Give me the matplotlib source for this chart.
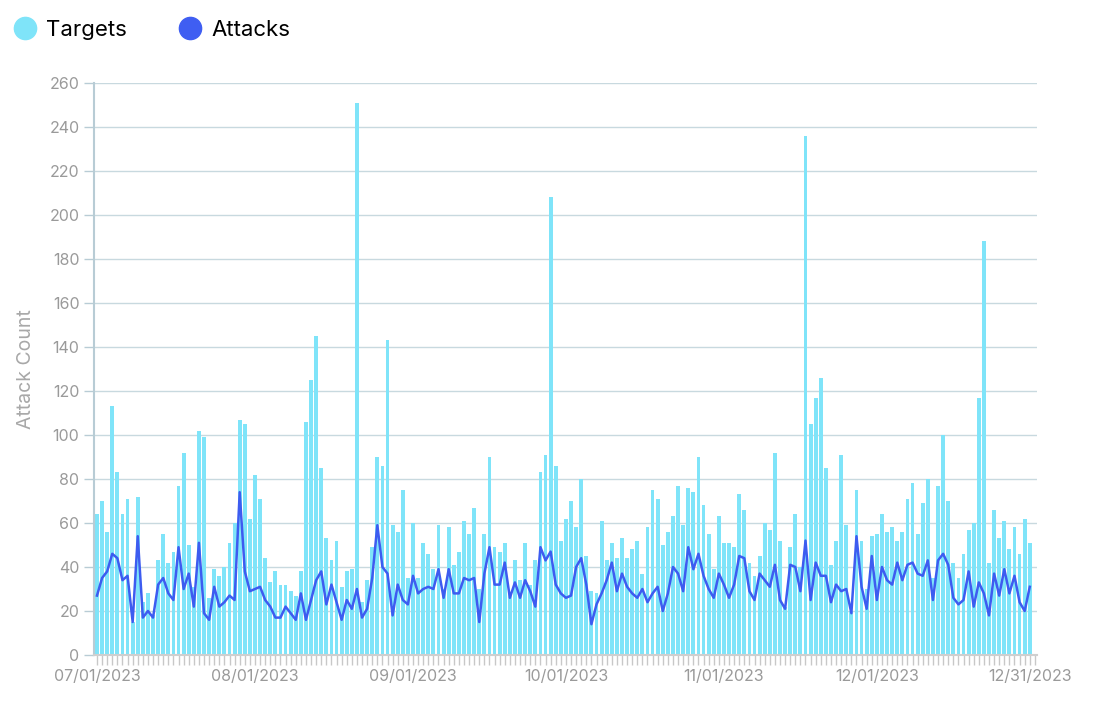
import matplotlib
matplotlib.use("Agg")
import matplotlib.pyplot as plt
import matplotlib.dates as mdates
from matplotlib.lines import Line2D
import pandas as pd

plt.rcParams['font.family'] = ['Inter', 'DejaVu Sans']

start_date = "2023-07-01"
end_date = "2023-12-31"
month_ticks = ["2023-07-01", "2023-08-01", "2023-09-01", "2023-10-01",
               "2023-11-01", "2023-12-01", "2023-12-31"]

targets = [64, 70, 56, 113, 83, 64, 71, 15, 72, 24, 28, 18, 43, 55, 42, 47, 77, 92, 50, 31,
           102, 99, 26, 39, 36, 40, 51, 60, 107, 105,
           62, 82, 71, 44, 33, 38, 32, 32, 29, 27, 38, 106, 125, 145, 85, 53, 43, 52, 31, 38,
           39, 251, 24, 34, 49, 90, 86, 143, 59, 56,
           75, 35, 60, 35, 51, 46, 39, 59, 30, 58, 41, 47, 61, 55, 67, 30, 55, 90, 49, 47,
           51, 28, 43, 34, 51, 32, 43, 83, 91, 208,
           86, 52, 62, 70, 58, 80, 45, 29, 28, 61, 43, 51, 44, 53, 44, 48, 52, 37, 58, 75,
           71, 50, 56, 63, 77, 59, 76, 74, 90, 68,
           55, 39, 63, 51, 51, 49, 73, 66, 42, 36, 45, 60, 57, 92, 52, 22, 49, 64, 40, 236,
           105, 117, 126, 85, 41, 52, 91, 59, 20, 75,
           52, 30, 54, 55, 64, 56, 58, 52, 56, 71, 78, 55, 69, 80, 35, 77, 100, 70, 42, 35,
           46, 57, 60, 117, 188, 42, 66, 53, 61, 48, 58, 46, 62, 51]

attacks = [27, 35, 38, 46, 44, 34, 36, 15, 54, 17, 20, 17, 32, 35, 28, 25, 49, 30, 37, 22,
           51, 19, 16, 31, 22, 24, 27, 25, 74, 38,
           29, 30, 31, 25, 22, 17, 17, 22, 19, 16, 28, 16, 25, 34, 38, 23, 32, 24, 16, 25,
           21, 30, 17, 21, 35, 59, 40, 37, 18, 32,
           25, 23, 36, 28, 30, 31, 30, 39, 26, 39, 28, 28, 35, 34, 35, 15, 37, 49, 32, 32,
           42, 26, 33, 26, 34, 29, 22, 49, 43, 47,
           32, 28, 26, 27, 40, 44, 32, 14, 23, 28, 34, 42, 29, 37, 31, 28, 26, 30, 24, 28,
           31, 20, 28, 40, 37, 29, 49, 39, 46, 36,
           30, 26, 37, 32, 26, 32, 45, 44, 29, 25, 37, 34, 31, 41, 25, 21, 41, 40, 29, 52,
           25, 42, 36, 36, 24, 32, 29, 30, 19, 54,
           31, 21, 45, 25, 40, 34, 32, 42, 34, 41, 42, 37, 36, 43, 25, 43, 46, 41, 26, 23,
           25, 38, 22, 33, 28, 18, 37, 27, 39, 28, 36, 24, 20, 31]

dates = pd.date_range(start_date, end_date, freq="D")

bar_color = "#7fe4f9"
line_color = "#3d5cf0"
grid_color = "#c8d9df"
tick_color = "#9a9a9a"

fig = plt.figure(figsize=(10.96, 7.04), dpi=100)
ax = fig.add_axes([94 / 1096, 49 / 704, (1037 - 94) / 1096, (655 - 83) / 704])

ax.bar(dates, targets, width=0.75, color=bar_color, zorder=2)
ax.plot(dates, attacks, color=line_color, linewidth=1.8, zorder=3)

ax.set_ylim(0, 260)
ax.set_yticks(range(0, 261, 20))
ax.set_xlim(dates[0] - pd.Timedelta(hours=14), dates[-1] + pd.Timedelta(hours=34))

ax.set_xticks(pd.to_datetime(month_ticks))
ax.xaxis.set_major_formatter(mdates.DateFormatter("%m/%d/%Y"))
ax.xaxis.set_minor_locator(mdates.DayLocator())

ax.grid(axis="y", color=grid_color, linewidth=1, zorder=0)
ax.set_axisbelow(True)

for s in ["top", "right"]:
    ax.spines[s].set_visible(False)
ax.spines["left"].set_color("#b8ccd5")
ax.spines["left"].set_linewidth(1.5)
ax.spines["bottom"].set_color("#cfcfcf")
ax.spines["bottom"].set_linewidth(1.5)

ax.tick_params(axis="y", colors="#b8ccd5", labelcolor=tick_color, labelsize=11.5,
               length=7, width=1)
ax.tick_params(axis="x", which="major", colors="#c8c8c8", labelcolor=tick_color,
               labelsize=11.5, length=7, width=1, pad=3)
ax.tick_params(axis="x", which="minor", colors="#c8c8c8", length=7, width=1)

ax.set_ylabel("Attack Count", color="#a8a8a8", fontsize=14, labelpad=10)

handles = [
    Line2D([], [], marker="o", linestyle="none", markersize=16,
           markerfacecolor=bar_color, markeredgecolor=bar_color),
    Line2D([], [], marker="o", linestyle="none", markersize=16,
           markerfacecolor="#3f5ef2", markeredgecolor="#3f5ef2"),
]
fig.legend(handles, ["Targets", "Attacks"], loc="upper left",
           bbox_to_anchor=(-0.0157, 1.0), ncol=2, frameon=False, fontsize=16,
           handletextpad=-0.05, columnspacing=1.85, borderaxespad=0.5)

fig.savefig("out.png", dpi=100)
